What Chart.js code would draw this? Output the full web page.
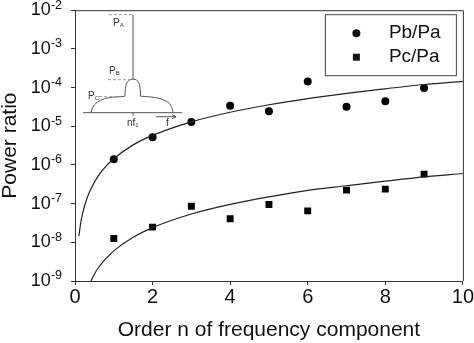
<!DOCTYPE html>
<html>
<head>
<meta charset="utf-8">
<script src="https://cdn.jsdelivr.net/npm/chart.js@4.4.0/dist/chart.umd.min.js"></script>
<style>
  html, body { margin: 0; padding: 0; background: #fff; }
</style>
</head>
<body>
<canvas id="chart" width="474" height="343"></canvas>
<script>
// measured power ratios per harmonic order
const orders = [1, 2, 3, 4, 5, 6, 7, 8, 9];
const pbRatio = [1.4e-6, 5.2e-6, 1.28e-5, 3.4e-5, 2.45e-5, 1.44e-4, 3.2e-5, 4.4e-5, 9.8e-5];
const pcRatio = [1.26e-8, 2.47e-8, 8.6e-8, 4.05e-8, 9.5e-8, 6.5e-8, 2.23e-7, 2.37e-7, 5.8e-7];

// fitted trend lines
const pbFitN = [0.1, 0.15, 0.2, 0.3, 0.4, 0.6, 0.8, 1, 1.5, 2, 3, 4, 5, 6, 7, 8, 9, 10];
const pbFit = [1.45e-8, 3.3e-8, 5.8e-8, 1.3e-7, 2.3e-7, 5.2e-7, 9.3e-7, 1.45e-6, 3.3e-6, 5.8e-6,
               1.3e-5, 2.3e-5, 3.6e-5, 5.2e-5, 7.1e-5, 9.3e-5, 1.2e-4, 1.45e-4];
const pcFitN = [0.41, 0.5, 0.6, 0.8, 1, 1.5, 2, 3, 4, 5, 6, 7, 8, 9, 10];
const pcFit = [1.0e-9, 1.5e-9, 2.2e-9, 3.8e-9, 6e-9, 1.35e-8, 2.4e-8, 5.4e-8, 9.6e-8,
               1.5e-7, 2.2e-7, 2.9e-7, 3.8e-7, 4.9e-7, 6e-7];

const xTicks = [0, 2, 4, 6, 8, 10];
const yDecades = [1e-9, 1e-8, 1e-7, 1e-6, 1e-5, 1e-4, 1e-3, 1e-2];
const seriesNames = ['Pb/Pa', 'Pc/Pa'];

const FONT = '"Liberation Sans", Arial, Helvetica, sans-serif';
const INK = '#111';
const FRAME = '#333';

const pts = (xs, ys) => xs.map((x, i) => ({ x: x, y: ys[i] }));

// y labels as 10 with a raised exponent
const powerLabels = {
  id: 'powerLabels',
  afterDraw(chart) {
    const ctx = chart.ctx;
    const y = chart.scales.y;
    const right = chart.chartArea.left - 13;
    ctx.save();
    ctx.fillStyle = INK;
    ctx.textBaseline = 'middle';
    ctx.textAlign = 'left';
    y.ticks.forEach(t => {
      const py = y.getPixelForValue(t.value);
      const exp = String(Math.round(Math.log10(t.value)));
      ctx.font = '12.5px ' + FONT;
      const we = ctx.measureText(exp).width;
      ctx.font = '18px ' + FONT;
      const wb = ctx.measureText('10').width;
      const x0 = right - we - wb;
      ctx.fillText('10', x0, py);
      ctx.font = '12.5px ' + FONT;
      ctx.fillText(exp, x0 + wb, py - 5);
    });
    ctx.restore();
  }
};

// closing frame, legend box and the spectrum sketch
const decorations = {
  id: 'decorations',
  afterDraw(chart) {
    const ctx = chart.ctx;
    const a = chart.chartArea;
    ctx.save();
    ctx.strokeStyle = FRAME;
    ctx.lineWidth = 1;
    ctx.beginPath();
    ctx.moveTo(a.left, a.top + 0.5);
    ctx.lineTo(a.right + 0.5, a.top + 0.5);
    ctx.lineTo(a.right + 0.5, a.bottom);
    ctx.stroke();

    // legend
    const lx = a.right - 138, ly = a.top + 4;
    ctx.strokeStyle = '#444';
    ctx.strokeRect(lx + 0.5, ly + 0.5, 131, 61);
    ctx.fillStyle = INK;
    ctx.beginPath();
    ctx.arc(lx + 31.5, ly + 19, 4, 0, Math.PI * 2);
    ctx.fill();
    ctx.fillRect(lx + 28, ly + 39.5, 7, 7);
    ctx.font = '19px ' + FONT;
    ctx.textBaseline = 'middle';
    ctx.fillText(seriesNames[0], lx + 64, ly + 19);
    ctx.fillText(seriesNames[1], lx + 64, ly + 43);

    // spectrum sketch
    const ox = a.left, oy = a.top;
    ctx.strokeStyle = '#555';
    ctx.lineWidth = 1;
    ctx.beginPath();
    ctx.moveTo(ox + 8, oy + 102.5);
    ctx.lineTo(ox + 107, oy + 102.5);
    ctx.moveTo(ox + 58, oy + 102.5);
    ctx.lineTo(ox + 58, oy + 105.5);
    ctx.moveTo(ox + 58, oy + 4.5);
    ctx.lineTo(ox + 58, oy + 69);
    ctx.stroke();

    ctx.beginPath();
    ctx.moveTo(ox + 16, oy + 102.5);
    ctx.bezierCurveTo(ox + 18, oy + 90, ox + 30, oy + 87, ox + 45, oy + 86.5);
    ctx.lineTo(ox + 50, oy + 86);
    ctx.bezierCurveTo(ox + 50, oy + 74, ox + 52, oy + 69, ox + 58, oy + 69);
    ctx.bezierCurveTo(ox + 64, oy + 69, ox + 65.5, oy + 74, ox + 65.5, oy + 86);
    ctx.bezierCurveTo(ox + 75, oy + 86.5, ox + 85, oy + 87.5, ox + 89, oy + 90);
    ctx.bezierCurveTo(ox + 95, oy + 92, ox + 97, oy + 96, ox + 98, oy + 102.5);
    ctx.stroke();

    // arrow toward f
    ctx.beginPath();
    ctx.moveTo(ox + 81, oy + 106.5);
    ctx.lineTo(ox + 101, oy + 106.5);
    ctx.moveTo(ox + 97, oy + 104.5);
    ctx.lineTo(ox + 101, oy + 106.5);
    ctx.lineTo(ox + 97, oy + 108.5);
    ctx.stroke();

    ctx.strokeStyle = '#999';
    ctx.setLineDash([3, 2]);
    ctx.beginPath();
    ctx.moveTo(ox + 34, oy + 4.5);  ctx.lineTo(ox + 58, oy + 4.5);
    ctx.moveTo(ox + 33, oy + 69.5); ctx.lineTo(ox + 58, oy + 69.5);
    ctx.moveTo(ox + 24, oy + 86.5); ctx.lineTo(ox + 46, oy + 86.5);
    ctx.stroke();
    ctx.setLineDash([]);

    const sub = (main, s, x, y) => {
      ctx.font = '10px ' + FONT;
      ctx.fillText(main, x, y);
      const w = ctx.measureText(main).width;
      ctx.font = '6px ' + FONT;
      ctx.fillText(s, x + w, y + 2);
    };
    ctx.fillStyle = '#333';
    ctx.textBaseline = 'middle';
    ctx.textAlign = 'left';
    sub('P', 'A', ox + 38, oy + 13);
    sub('P', 'B', ox + 34, oy + 61.5);
    sub('P', 'C', ox + 13, oy + 86);
    sub('nf', '1', ox + 52, oy + 113);
    ctx.font = '10px ' + FONT;
    ctx.fillText('f', ox + 91, oy + 113);
    ctx.restore();
  }
};

new Chart(document.getElementById('chart'), {
  type: 'scatter',
  data: {
    datasets: [
      {
        label: seriesNames[0] + ' fit',
        data: pts(pbFitN, pbFit),
        showLine: true,
        borderColor: '#222',
        borderWidth: 1.2,
        pointRadius: 0,
        cubicInterpolationMode: 'monotone'
      },
      {
        label: seriesNames[1] + ' fit',
        data: pts(pcFitN, pcFit),
        showLine: true,
        borderColor: '#222',
        borderWidth: 1.2,
        pointRadius: 0,
        cubicInterpolationMode: 'monotone'
      },
      {
        label: seriesNames[0],
        data: pts(orders, pbRatio),
        pointStyle: 'circle',
        pointRadius: 4,
        backgroundColor: '#000',
        borderColor: '#000',
        borderWidth: 0
      },
      {
        label: seriesNames[1],
        data: pts(orders, pcRatio),
        pointStyle: 'rect',
        pointRadius: 4.9,
        backgroundColor: '#000',
        borderColor: '#000',
        borderWidth: 0
      }
    ]
  },
  options: {
    responsive: false,
    animation: false,
    layout: { padding: { top: 10, right: 11, left: 0, bottom: 0 } },
    plugins: {
      legend: { display: false },
      tooltip: { enabled: false }
    },
    scales: {
      x: {
        type: 'linear',
        min: 0,
        max: 10,
        afterBuildTicks: s => { s.ticks = xTicks.map(v => ({ value: v })); },
        afterFit: s => { s.height = 62; },
        grid: { display: true, drawOnChartArea: false, drawTicks: true, tickLength: 4, color: FRAME },
        border: { display: true, color: FRAME },
        ticks: { color: INK, padding: 0, font: { family: FONT, size: 20 } },
        title: {
          display: true,
          text: 'Order n of frequency component',
          color: INK,
          padding: { top: 0, bottom: 2 },
          font: { family: FONT, size: 21, lineHeight: 1 }
        }
      },
      y: {
        type: 'logarithmic',
        min: 1e-9,
        max: 1e-2,
        afterBuildTicks: s => { s.ticks = yDecades.map(v => ({ value: v })); },
        afterFit: s => { s.width = 75; },
        grid: { display: true, drawOnChartArea: false, drawTicks: true, tickLength: 4, color: FRAME },
        border: { display: true, color: FRAME },
        ticks: { callback: () => '' },
        title: {
          display: true,
          text: 'Power ratio',
          color: INK,
          padding: { top: 0, bottom: 0 },
          font: { family: FONT, size: 21, lineHeight: 1 }
        }
      }
    }
  },
  plugins: [powerLabels, decorations]
});
</script>
</body>
</html>
